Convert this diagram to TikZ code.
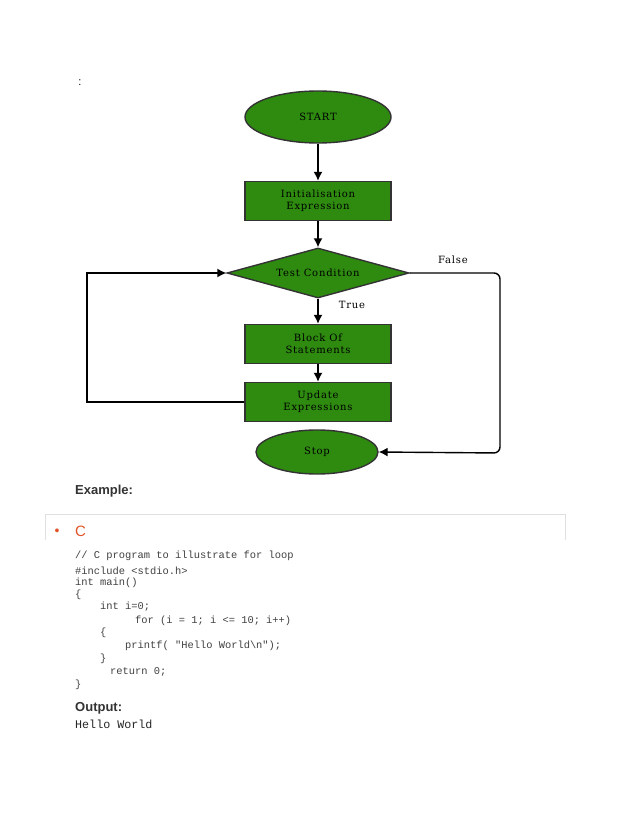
\documentclass[tikz,border=0pt]{standalone}
\usepackage{fontspec}
\setmainfont{DejaVu Serif}
\newfontfamily\flowf[LetterSpace=8]{DejaVu Serif}
\newfontfamily\sansf{Liberation Sans}
\newfontfamily\monof{Liberation Mono}
\usetikzlibrary{shapes.geometric,arrows.meta}
\definecolor{boxgreen}{HTML}{2E8B10}
\definecolor{bulletorange}{HTML}{E0542A}
\tikzset{
  block/.style={draw=black!80, line width=1.4pt, fill=boxgreen, minimum width=146pt, minimum height=39pt, align=center, font=\flowf\fontsize{10}{12}\selectfont, inner sep=0pt},
  term/.style={ellipse, draw=black!80, line width=1.4pt, fill=boxgreen, inner sep=0pt, font=\flowf\fontsize{10}{12}\selectfont},
  flow/.style={line width=1.4pt, -{Latex[length=9pt,width=9pt]}},
  code/.style={anchor=west, font=\monof\fontsize{10.4}{12}\selectfont, text=black!75, inner sep=0pt},
}
\begin{document}
\begin{tikzpicture}[x=1pt,y=-1pt]
\useasboundingbox (0,0) rectangle (638,826);

\node at (80,83) {\sansf\fontsize{11}{12}\selectfont :};

% flowchart
\node[term, minimum width=146pt, minimum height=52pt] (start) at (318,117) {START};
\node[block] (init) at (318,201) {Initialisation\\Expression};
\node[diamond, draw=black!80, line width=1.4pt, fill=boxgreen, aspect=4.5, minimum width=182pt, minimum height=50pt, inner sep=0pt, font=\flowf\fontsize{10}{12}\selectfont] (test) at (318,273) {Test Condition};
\node[block] (body) at (318,344) {Block Of\\Statements};
\node[block] (update) at (318,402) {Update\\Expressions};
\node[term, minimum width=122pt, minimum height=44pt] (stop) at (317,452) {Stop};

\coordinate (loopbot) at (87,402);
\coordinate (looptop) at (87,273);
\coordinate (falsetop) at (500,273);
\coordinate (falsebot) at (500,453);

\draw[flow] (start) -- (init);
\draw[flow] (init) -- (test);
\draw[flow] (test) -- (body);
\draw[flow] (body) -- (update);
\draw[flow] (update.west) -- (loopbot) -- (looptop) -- (test.west);
\draw[flow, rounded corners=6pt] (test.east) -- (falsetop) -- (falsebot) -- (stop.east);

\node[font=\flowf\fontsize{10}{12}\selectfont] (falselbl) at (453,260) {False};
\node[font=\flowf\fontsize{10}{12}\selectfont] (truelbl) at (352,305) {True};

% example text
\node[anchor=west, inner sep=0pt, font=\sansf\bfseries\fontsize{13}{15}\selectfont, text=black!80] (example) at (75,491) {Example:};
\draw[black!12, line width=0.8pt] (45,540) -- (45,514) -- (565,514) -- (565,540);
\node[text=bulletorange, font=\sansf\fontsize{14}{15}\selectfont] (bullet) at (57,532) {•};
\node[anchor=west, inner sep=0pt, text=bulletorange, font=\sansf\fontsize{15}{17}\selectfont] (lang) at (75,531) {C};

\node[code] at (75,556) {// C program to illustrate for loop};
\node[code] at (75,571) {\#include <stdio.h>};
\node[code] at (75,583) {int main()};
\node[code] at (75,595) {\{};
\node[code] at (100,607) {int i=0;};
\node[code] at (135,621) {for (i = 1; i <= 10; i++)};
\node[code] at (100,633) {\{};
\node[code] at (125,646) {printf( "Hello World\textbackslash n");};
\node[code] at (100,659) {\}};
\node[code] at (110,672) {return 0;};
\node[code] at (75,685) {\}};

\node[anchor=west, inner sep=0pt, font=\sansf\bfseries\fontsize{13}{15}\selectfont, text=black!80] (output) at (75,708) {Output:};
\node[anchor=west, inner sep=0pt, font=\monof\fontsize{11.7}{13}\selectfont, text=black!85] (hello) at (75,724) {Hello World};
\end{tikzpicture}
\end{document}
